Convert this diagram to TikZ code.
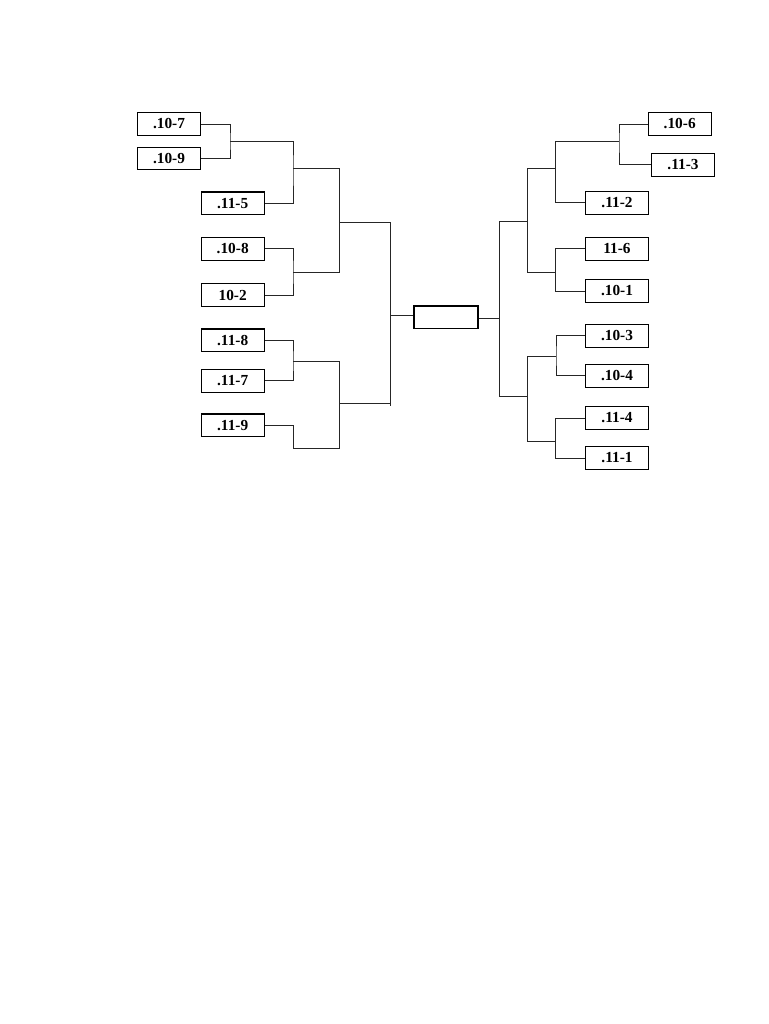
\documentclass[tikz,border=0pt]{standalone}
\usepackage{fontspec}
\setmainfont{Liberation Serif}
\begin{document}
\begin{tikzpicture}[x=0.75pt,y=-0.75pt,
  team/.style={draw=black,line width=0.8pt,minimum width=47.5pt,minimum height=17pt,inner sep=0pt,
    font=\fontsize{11.5}{13}\selectfont\bfseries},
  link/.style={draw=black!85,line width=0.7pt}]
\useasboundingbox (0,0) rectangle (768,1024);
% left boxes
\node[team] (n107) at (169,124) {.10-7};
\node[team] (n109) at (169,158.5) {.10-9};
\node[team] (n115) at (232.7,203.3) {.11-5};
\node[team] (n108) at (232.7,248.8) {.10-8};
\node[team] (n102) at (232.7,295) {10-2};
\node[team] (n118) at (232.7,340.3) {.11-8};
\node[team] (n117) at (232.7,380.7) {.11-7};
\node[team] (n119) at (232.7,425.3) {.11-9};
% center
\node[team,minimum width=48pt] (final) at (446,317.3) {};
% right boxes
\node[team] (n106) at (679.7,124) {.10-6};
\node[team] (n113) at (683,164.8) {.11-3};
\node[team] (n112) at (617,202.8) {.11-2};
\node[team] (n116) at (617,248.8) {11-6};
\node[team] (n101) at (617,291) {.10-1};
\node[team] (n103) at (617,335.7) {.10-3};
\node[team] (n104) at (617,375.7) {.10-4};
\node[team] (n114) at (617,418) {.11-4};
\node[team] (n111) at (617,458) {.11-1};
% left junctions
\coordinate (jA) at (230,141.3);
\coordinate (jB) at (293,168.7);
\coordinate (jC) at (293,272.3);
\coordinate (jD) at (339.3,222);
\coordinate (jE) at (293,361.7);
\coordinate (jF) at (339.3,403.3);
\coordinate (kF) at (293,448.3);
\coordinate (jG) at (390.7,315.7);
\coordinate (jGb) at (390.7,406);
% right junctions
\coordinate (rA) at (619,141.3);
\coordinate (rB) at (555.7,168.7);
\coordinate (rC) at (555.7,272.3);
\coordinate (rD) at (527.3,221);
\coordinate (rE) at (556,356.3);
\coordinate (rH) at (555.7,441);
\coordinate (rF) at (527.3,396.3);
\coordinate (rG) at (499.3,318.3);
% left connectors
\draw[link] (n107.east) -| (jA) |- (n109.east);
\draw[link] (jA) -| (jB) |- (n115.east);
\draw[link] (n108.east) -| (jC) |- (n102.east);
\draw[link] (jB) -| (jD) |- (jC);
\draw[link] (n118.east) -| (jE) |- (n117.east);
\draw[link] (jE) -| (jF) |- (kF) |- (n119.east);
\draw[link] (jD) -| (jG) -- (jGb);
\draw[link] (jF) -| (jG);
\draw[link] (jG) -- (jG -| final.west);
% right connectors
\draw[link] (final.east |- rG) -- (rG);
\draw[link] (n106.west) -| (rA) |- (n113.west);
\draw[link] (rA) -| (rB) |- (n112.west);
\draw[link] (n116.west) -| (rC) |- (n101.west);
\draw[link] (rB) -| (rD) |- (rC);
\draw[link] (n103.west) -| (rE) |- (n104.west);
\draw[link] (n114.west) -| (rH) |- (n111.west);
\draw[link] (rE) -| (rF) |- (rH);
\draw[link] (rD) -| (rG) |- (rF);
\end{tikzpicture}
\end{document}
